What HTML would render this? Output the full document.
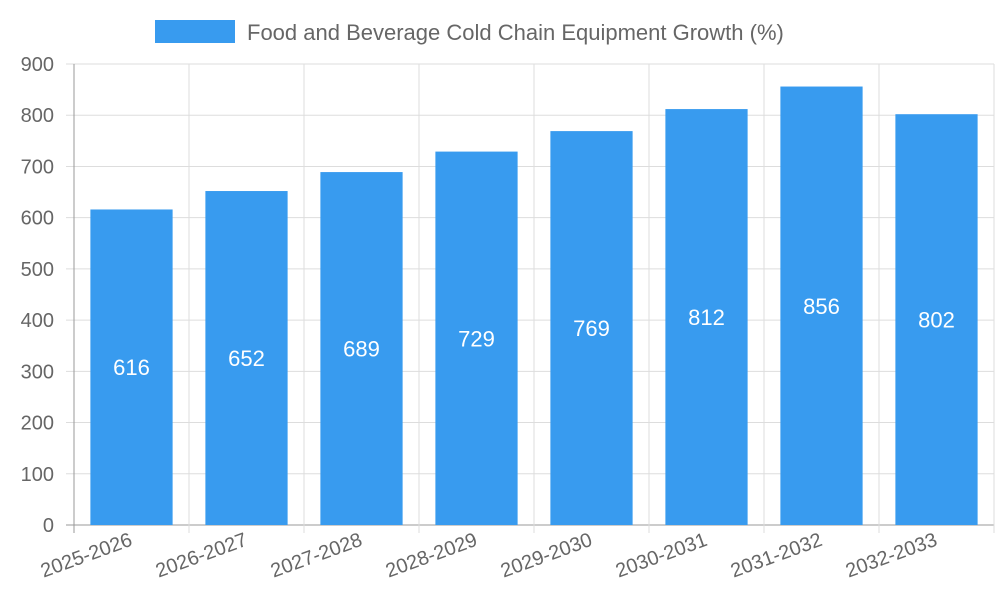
<!DOCTYPE html>
<html><head><meta charset="utf-8"><style>
body{margin:0;background:#fff;}
svg{display:block;font-family:"Liberation Sans",sans-serif;}
</style></head><body>
<svg id="chart" width="1000" height="600">
  <g id="legend">
    <rect x="155" y="20" width="80" height="23" fill="#389bef"></rect>
    <text x="247" y="40" font-size="22" fill="#666">Food and Beverage Cold Chain Equipment Growth (%)</text>
  </g>
  <g id="grid"></g>
  <g id="bars"></g>
  <g id="axes"></g>
</svg>
<script>
const categories = ["2025-2026","2026-2027","2027-2028","2028-2029","2029-2030","2030-2031","2031-2032","2032-2033"];
const values = [616,652,689,729,769,812,856,802];
const yTicks = [0,100,200,300,400,500,600,700,800,900];

const L=74,R=994,T=64,B=525,yMax=900;
const band=(R-L)/categories.length;
const y=v=>B-(v/yMax)*(B-T);
const xc=i=>L+band*(i+0.5);
const NS="http://www.w3.org/2000/svg";
function mk(tag,attrs,parent){const e=document.createElementNS(NS,tag);for(const k in attrs)e.setAttribute(k,attrs[k]);parent.appendChild(e);return e;}
const grid=document.getElementById('grid'),bars=document.getElementById('bars'),axes=document.getElementById('axes');

yTicks.forEach(t=>{
  const g=mk('line',{x1:66,x2:R,y1:y(t),y2:y(t),stroke:t===0?'#999':'#ddd','stroke-width':1},grid);
  
  
  const lb=mk('text',{x:54,y:y(t)+7,'text-anchor':'end','font-size':20,fill:'#666'},axes);
  lb.textContent=t;
  
  
});
for(let i=0;i<=categories.length;i++){
  const x=L+band*i;
  const g=mk('line',{x1:x,x2:x,y1:T,y2:533,stroke:i===0?'#999':'#ddd','stroke-width':1},grid);
  
  
}
categories.forEach((c,i)=>{
  const bw=band*0.715;
  const r=mk('rect',{x:xc(i)-bw/2,y:y(values[i]),width:bw,height:B-y(values[i]),fill:'#389bef'},bars);
  
  
  const v=mk('text',{x:xc(i),y:(y(values[i])+B)/2+8,'text-anchor':'middle','font-size':22,fill:'#fff'},bars);
  v.textContent=values[i];
  
  
  const lx=xc(i)+2,ly=545;
  const t=mk('text',{x:lx,y:ly,'text-anchor':'end','font-size':20,fill:'#666',transform:`rotate(-20 ${lx} ${ly})`},axes);
  t.textContent=c;
  
  
});
</script>
</body></html>
